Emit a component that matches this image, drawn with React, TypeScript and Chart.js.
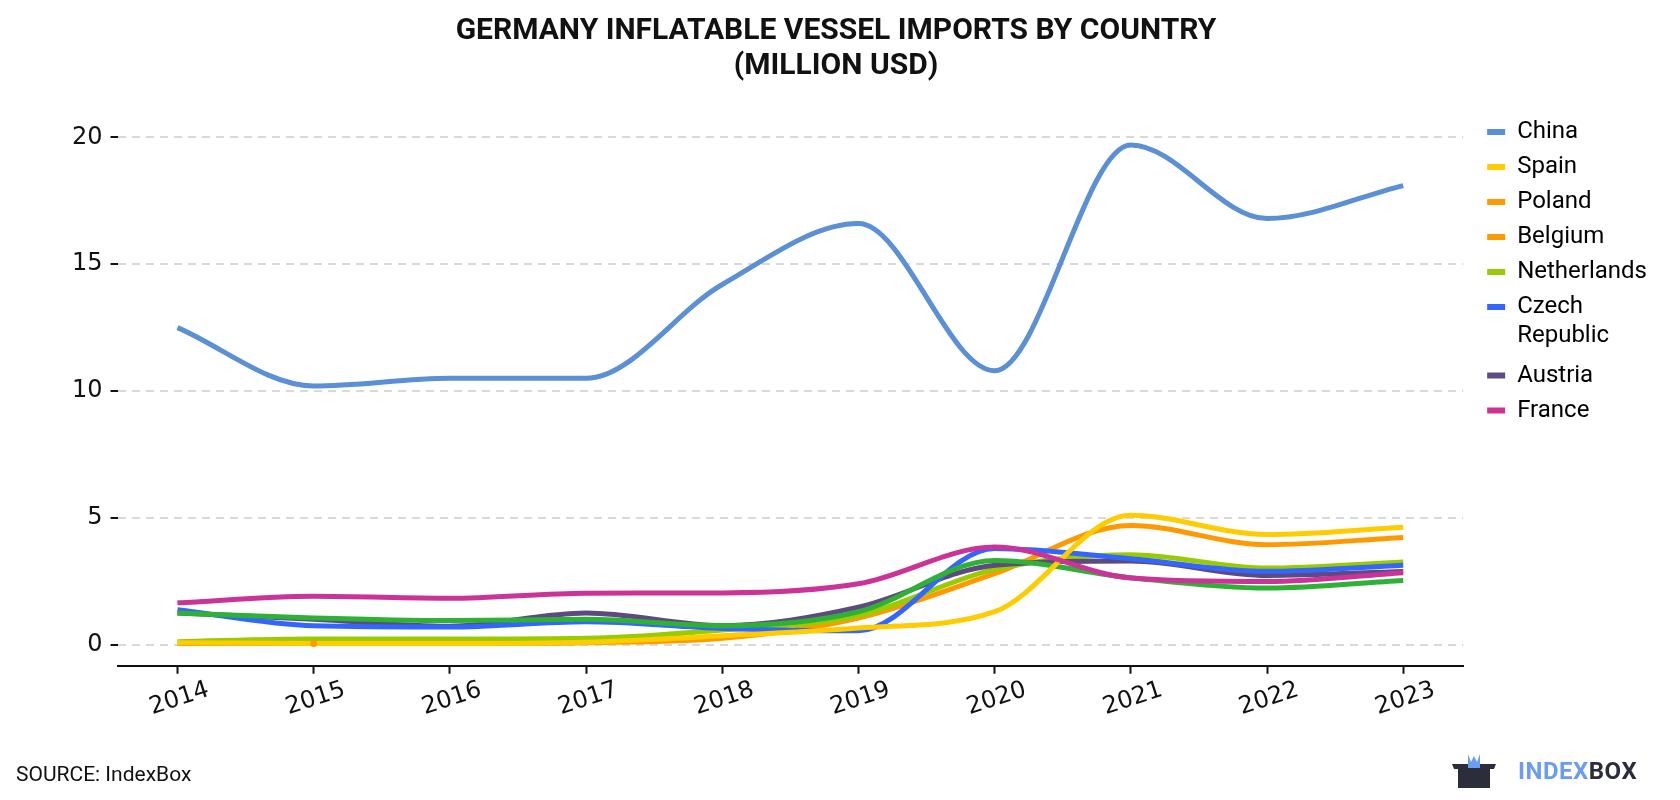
import React, { useEffect, useRef } from "react";
import { Chart, registerables } from "chart.js";

Chart.register(...registerables);

const years = ["2014", "2015", "2016", "2017", "2018", "2019", "2020", "2021", "2022", "2023"];
const china = [12.5, 10.2, 10.5, 10.5, 14.2, 16.6, 10.8, 19.7, 16.8, 18.1];
const spain = [0.08, 0.05, 0.05, 0.1, 0.35, 0.66, 1.3, 5.1, 4.34, 4.63];
const poland = [0.05, 0.05, 0.05, 0.08, 0.25, 1.05, 2.8, 4.7, 3.94, 4.23];
const belgium = [null, 0.05, null, null, null, null, null, null, null, null];
const netherlands = [0.12, 0.22, 0.22, 0.25, 0.58, 1.15, 2.97, 3.55, 3.02, 3.26];
const czech = [1.38, 0.75, 0.7, 0.9, 0.64, 0.55, 3.79, 3.39, 2.89, 3.13];
const austria = [1.25, 1.0, 0.73, 1.25, 0.75, 1.48, 3.13, 3.3, 2.73, 2.89];
const france = [1.65, 1.91, 1.83, 2.03, 2.04, 2.4, 3.85, 2.63, 2.49, 2.84];
const other = [1.25, 1.05, 0.95, 1.0, 0.75, 1.3, 3.32, 2.64, 2.23, 2.53];
const yTicks = [0, 5, 10, 15, 20];

const names = ["China", "Spain", "Poland", "Belgium", "Netherlands", "Other", "Czech Republic", "Austria", "France"];
const colors = ["#5b8fd6", "#ffcc00", "#ff9900", "#ff9900", "#99cc00", "#2eb135", "#3366ff", "#5c4a80", "#cc3399"];
const drawOrder = [8, 1, 6, -1, 5, 2, 3, 4, 0];
const series = [china, spain, poland, belgium, netherlands, other, czech, austria, france];

const legendShift = {
  id: "legendShift",
  afterLayout(chart: any) {
    const lg = chart.legend;
    if (!lg) return;
    lg.left += 13;
    lg.right += 13;
    lg.top -= 3;
    lg.bottom -= 3;
  },
};

export default function App() {
  const ref = useRef<HTMLCanvasElement>(null);
  useEffect(() => {
    document.body.style.margin = "0";
    const ctx = ref.current!;
    const chart = new Chart(ctx, {
      type: "line",
      data: {
        datasets: series.map((d, i) => ({
          label: names[i],
          data: d.map((v, j) => ({ x: j, y: v })),
          borderColor: colors[i],
          backgroundColor: colors[i],
          borderWidth: 5,
          order: drawOrder[i],
          cubicInterpolationMode: "monotone",
          pointRadius: names[i] === "Belgium" ? 3.5 : 0,
          pointBorderWidth: 0,
          pointHoverRadius: 0,
          fill: false,
          spanGaps: false,
        })),
      },
      plugins: [legendShift],
      options: {
        responsive: false,
        animation: false,
        layout: { padding: { left: 64, right: 36, top: 112, bottom: 76 } },
        plugins: {
          title: { display: false },
          legend: {
            position: "right",
            align: "start",
            labels: {
              boxWidth: 18,
              boxHeight: 6,
              padding: 11,
              color: "#111",
              font: { family: "Roboto", size: 24 },
              generateLabels: (c: any) =>
                c.data.datasets
                  .map((ds: any, i: number) => ({
                    text: ds.label === "Czech Republic" ? ["Czech", "Republic"] : ds.label,
                    fillStyle: ds.borderColor,
                    strokeStyle: ds.borderColor,
                    lineWidth: 0,
                    hidden: false,
                    datasetIndex: i,
                  }))
                  .filter((it: any) => it.text !== "Other"),
            },
          },
          tooltip: { enabled: false },
        },
        scales: {
          x: {
            type: "linear",
            min: -0.44,
            max: years.length - 1 + 0.44,
            afterBuildTicks: (axis: any) => {
              axis.ticks = years.map((_, i) => ({ value: i }));
            },
            grid: { drawOnChartArea: false, drawTicks: true, tickLength: 8, tickColor: "#111", tickWidth: 2 },
            border: { display: true, color: "#111", width: 2 },
            ticks: {
              color: "#111",
              font: { family: "DejaVu Sans", size: 24 },
              minRotation: 18,
              maxRotation: 18,
              padding: 2,
              labelOffset: 31,
              autoSkip: false,
              callback: (v: any) => years[Math.round(Number(v))] ?? "",
            },
          },
          y: {
            min: -0.83,
            max: 21,
            afterBuildTicks: (axis: any) => {
              axis.ticks = yTicks.map((v) => ({ value: v }));
            },
            grid: { color: "#d9d9d9", lineWidth: 2, tickColor: "#111", tickLength: 7, tickWidth: 2 },
            border: { display: false, dash: [8, 6] },
            ticks: { color: "#111", font: { family: "DejaVu Sans", size: 24 }, padding: 8 },
          },
        },
      },
    });
    return () => chart.destroy();
  }, []);

  return (
    <div style={{ position: "relative", width: 1680, height: 800, background: "#fff", fontFamily: "Roboto" }}>
      <canvas ref={ref} width={1680} height={800} style={{ display: "block" }} />
      <div
        style={{
          position: "absolute",
          left: 0,
          top: 11,
          width: 1672,
          textAlign: "center",
          fontSize: 30,
          lineHeight: "35px",
          fontWeight: 700,
          color: "#111",
        }}
      >
        GERMANY INFLATABLE VESSEL IMPORTS BY COUNTRY
        <br />
        (MILLION USD)
      </div>
      <div style={{ position: "absolute", left: 16, top: 762, fontSize: 21, color: "#111" }}>SOURCE: IndexBox</div>
      <div style={{ position: "absolute", left: 1450, top: 752, display: "flex", alignItems: "center" }}>
        <svg width="48" height="38" viewBox="0 0 48 38">
          <path d="M2 12 L46 12 L44 17 L40 17 L40 36 L8 36 L8 17 L4 17 Z" fill="#2b2d3a" />
          <path d="M18 2 L21 10 L24 4 L27 10 L30 2 L30 16 L18 16 Z" fill="#6b9cf5" />
        </svg>
        <span style={{ fontSize: 24, fontWeight: 700, marginLeft: 20, letterSpacing: 0.5 }}>
          <span style={{ color: "#6b9cf5" }}>INDEX</span>
          <span style={{ color: "#2b2d3a" }}>BOX</span>
        </span>
      </div>
    </div>
  );
}
